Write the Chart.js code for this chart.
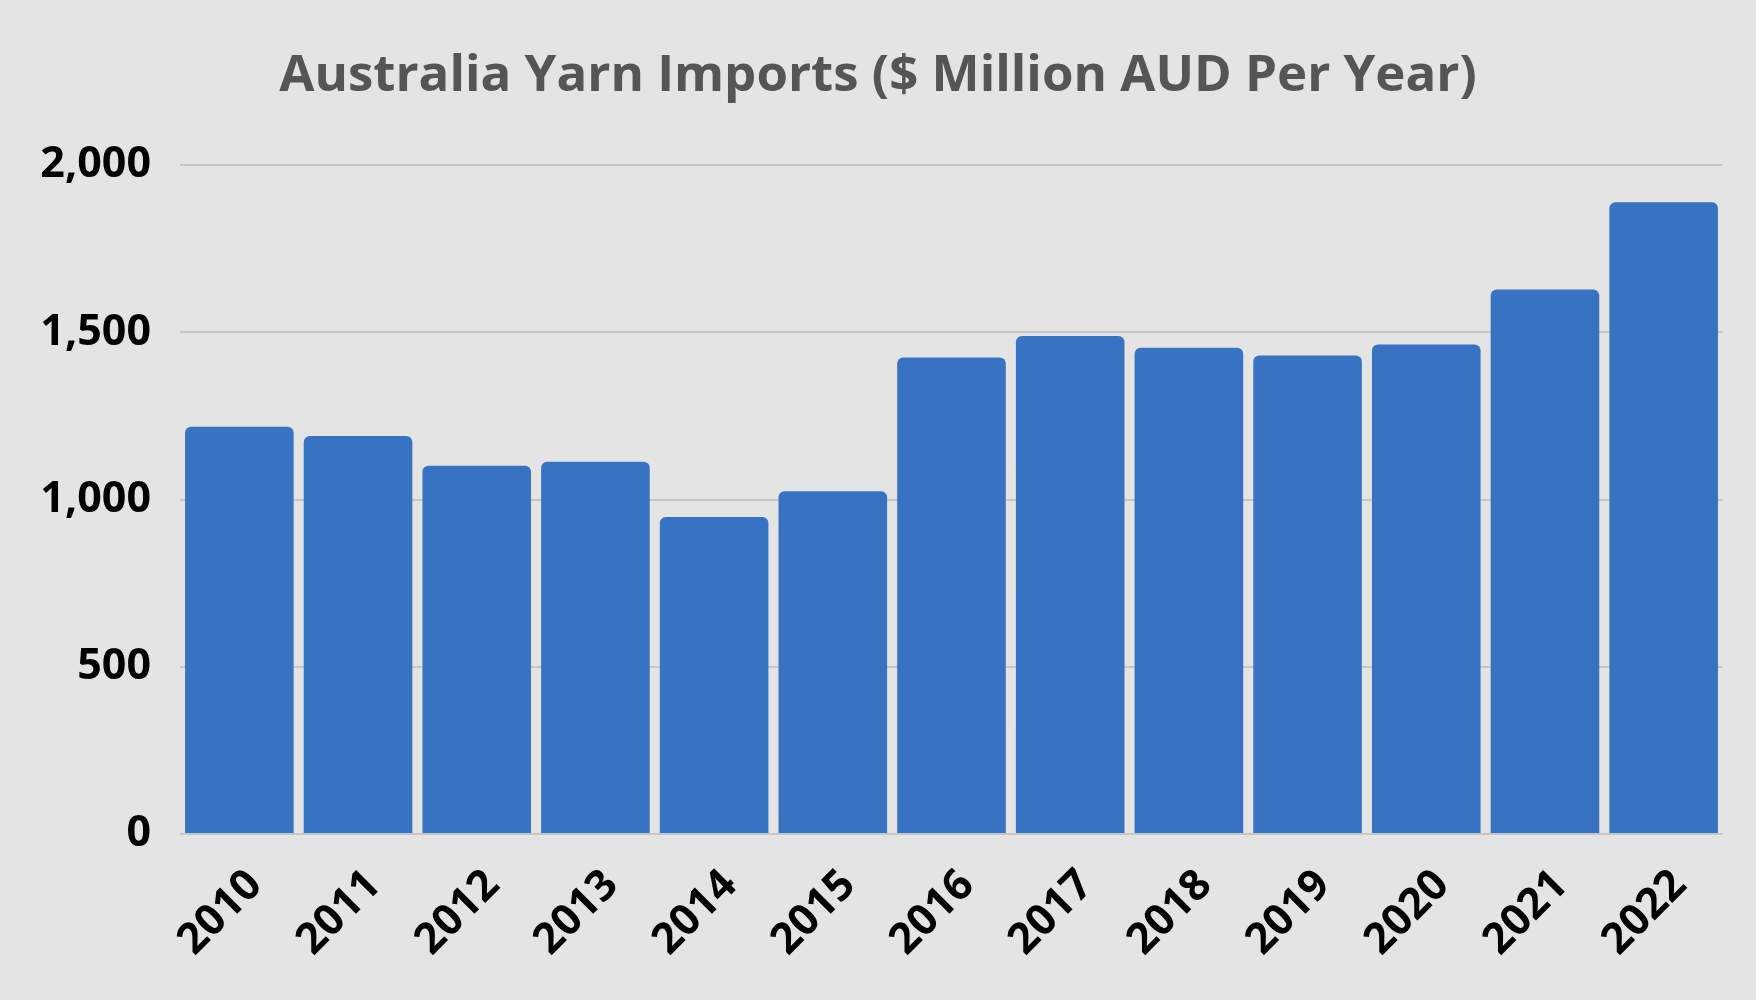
<!DOCTYPE html>
<html>
<head>
<meta charset="utf-8">
<script src="https://cdn.jsdelivr.net/npm/chart.js@4"></script>
<style>
  html, body { margin: 0; padding: 0; background: #e4e4e4; }
  #wrap { width: 1756px; height: 1000px; position: relative; }
</style>
</head>
<body>
<div id="wrap"><canvas id="c" width="1756" height="1000"></canvas></div>
<script>
const categories = ["2010","2011","2012","2013","2014","2015","2016","2017","2018","2019","2020","2021","2022"];
const importValues = [1218, 1190, 1101, 1113, 948, 1025, 1425, 1489, 1454, 1431, 1464, 1628, 1889];
const yTickValues = [0, 500, 1000, 1500, 2000];
const chartTitle = "Australia Yarn Imports ($ Million AUD Per Year)";

const ctx = document.getElementById('c').getContext('2d');
new Chart(ctx, {
  type: 'bar',
  data: {
    labels: categories,
    datasets: [{
      data: importValues,
      backgroundColor: '#3873c2',
      borderWidth: 0,
      borderRadius: { topLeft: 6, topRight: 6, bottomLeft: 0, bottomRight: 0 },
      borderSkipped: 'bottom',
      barPercentage: 0.915,
      categoryPercentage: 1.0
    }]
  },
  options: {
    responsive: false,
    animation: false,
    devicePixelRatio: 1,
    layout: { padding: 0 },
    plugins: {
      legend: { display: false },
      tooltip: { enabled: false },
      title: {
        display: true,
        text: chartTitle,
        color: '#555555',
        font: { family: 'Open Sans', size: 51, weight: '700' },
        padding: { top: 46, bottom: 58 }
      }
    },
    scales: {
      x: {
        grid: { display: false },
        border: { display: false },
        ticks: {
          color: '#000000',
          font: { family: 'Noto Sans', size: 43, weight: '700' },
          minRotation: 45,
          maxRotation: 45,
          padding: 18,
          labelOffset: 16,
          autoSkip: false
        },
        afterFit(scale) { scale.height = 166; }
      },
      y: {
        min: 0,
        max: 2000,
        afterBuildTicks(scale) { scale.ticks = yTickValues.map(v => ({ value: v })); },
        grid: { color: '#c6c6c6', lineWidth: 2, drawTicks: false },
        border: { display: false },
        ticks: {
          color: '#000000',
          font: { family: 'Noto Sans', size: 43, weight: '700' },
          padding: 29,
          callback: v => v.toLocaleString('en-US')
        },
        afterFit(scale) { scale.width = 180; }
      },
      yRightSpacer: {
        type: 'linear',
        position: 'right',
        display: true,
        grid: { display: false, drawTicks: false },
        border: { display: false },
        ticks: { display: false },
        afterFit(scale) { scale.width = 33; }
      }
    }
  }
});
</script>
</body>
</html>
